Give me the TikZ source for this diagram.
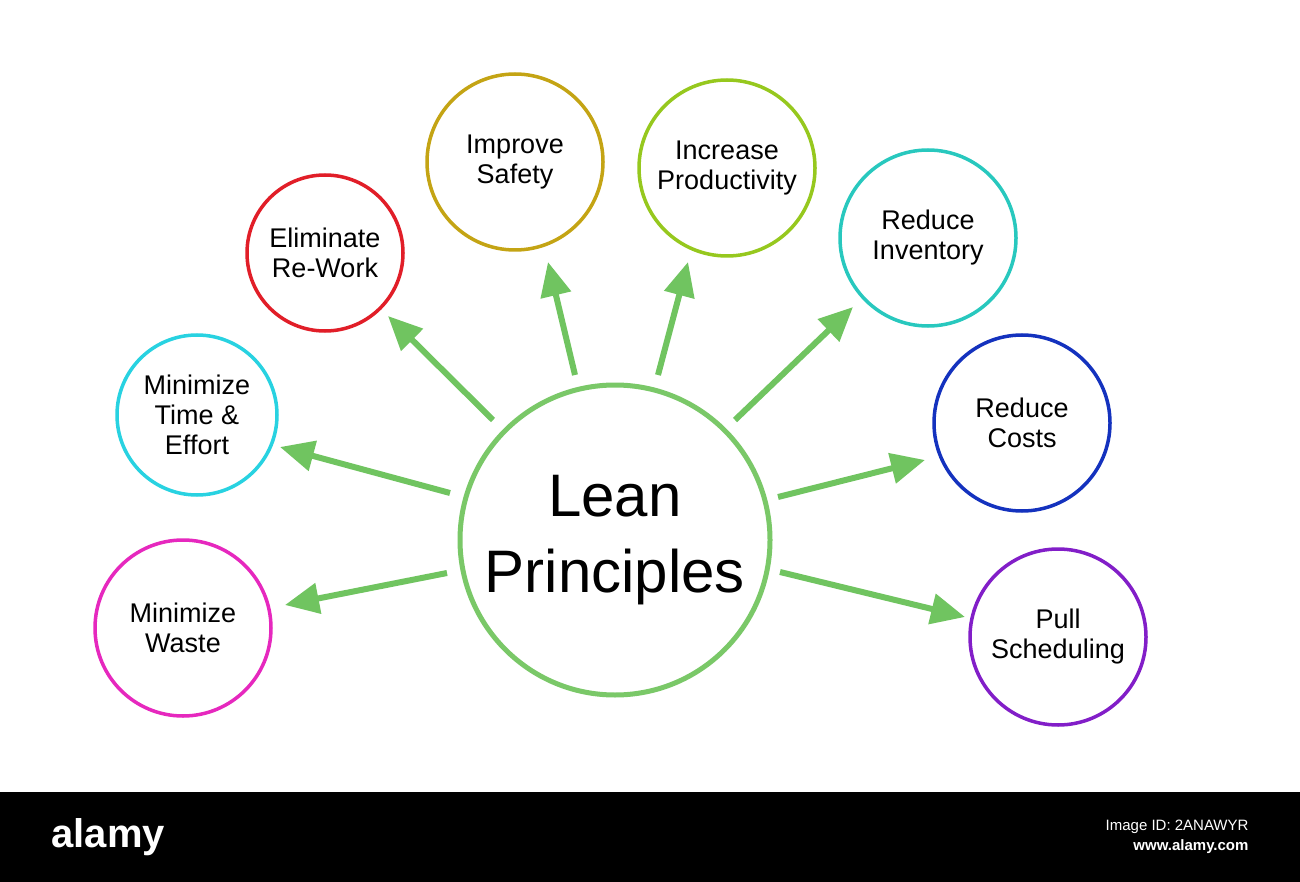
\documentclass[tikz,border=0pt]{standalone}
\usepackage{fontspec}
\setmainfont{Liberation Sans}
\usetikzlibrary{arrows.meta}
\definecolor{arrg}{RGB}{112,196,96}
\definecolor{leang}{RGB}{122,200,104}
\tikzset{
 ring/.style={circle,draw,line width=3.5pt,minimum size=#1,inner sep=0pt,align=center,font=\fontsize{27}{30}\selectfont},
 arr/.style={draw=arrg,line width=6pt,-{Triangle[length=34pt,width=30pt]}}
}
\begin{document}
\begin{tikzpicture}[x=1pt,y=-1pt]
\useasboundingbox (0,0) rectangle (1300,882);
\fill[white] (0,0) rectangle (1300,792);
\fill[black] (0,792) rectangle (1300,882);
\node[ring=310pt,draw=leang,line width=5pt,font=\fontsize{60}{76}\selectfont] (lean) at (615,540) {Lean\\Principles};
\node[ring=176pt,draw={rgb,255:red,196;green,164;blue,20}] (is) at (515,162) {Improve\\Safety};
\node[ring=176pt,draw={rgb,255:red,150;green,200;blue,30}] (ip) at (727,168) {Increase\\Productivity};
\node[ring=156pt,draw={rgb,255:red,225;green,30;blue,40}] (er) at (325,253) {Eliminate\\Re-Work};
\node[ring=176pt,draw={rgb,255:red,40;green,200;blue,190}] (ri) at (928,238) {Reduce\\Inventory};
\node[ring=160pt,draw={rgb,255:red,40;green,210;blue,225}] (mt) at (197,415) {Minimize\\Time \&\\Effort};
\node[ring=176pt,draw={rgb,255:red,20;green,50;blue,190}] (rc) at (1022,423) {Reduce\\Costs};
\node[ring=176pt,draw={rgb,255:red,230;green,40;blue,190}] (mw) at (183,628) {Minimize\\Waste};
\node[ring=176pt,draw={rgb,255:red,130;green,30;blue,200}] (ps) at (1058,637) {Pull\\Scheduling};
\coordinate (s1) at (493,420); \coordinate (e1) at (388,316);
\coordinate (s2) at (575,375); \coordinate (e2) at (548,262);
\coordinate (s3) at (658,375); \coordinate (e3) at (688,262);
\coordinate (s4) at (735,420); \coordinate (e4) at (853,307);
\coordinate (s5) at (450,493); \coordinate (e5) at (280,447);
\coordinate (s6) at (778,497); \coordinate (e6) at (925,460);
\coordinate (s7) at (447,573); \coordinate (e7) at (285,605);
\coordinate (s8) at (780,572); \coordinate (e8) at (965,617);
\foreach \i in {1,...,8} \draw[arr] (s\i) -- (e\i);
\node[text=white,font=\bfseries\fontsize{40}{40}\selectfont,anchor=west] (logo) at (48,837) {alamy};
\node[text=white,font=\fontsize{15}{20}\selectfont,anchor=east,align=right] (id) at (1252,837) {Image ID: 2ANAWYR\\\textbf{www.alamy.com}};
\end{tikzpicture}
\end{document}
